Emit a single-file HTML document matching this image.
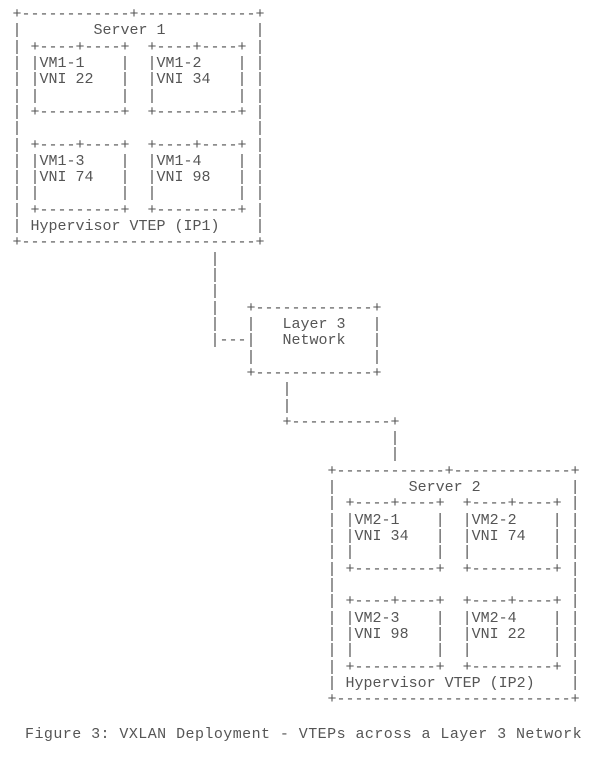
<!DOCTYPE html>
<html><head><meta charset="utf-8"><style>
html,body{margin:0;padding:0;background:#fff;}
body{width:600px;height:759px;position:relative;overflow:hidden;}
pre{position:absolute;margin:0;font-family:"Liberation Mono",monospace;font-size:15px;line-height:16.32px;color:#555;}
#d{left:12.5px;top:7px;}
#c{left:25px;top:727px;letter-spacing:0.44px;}
</style></head><body>
<pre id="d">+------------+-------------+
|        Server 1          |
| +----+----+  +----+----+ |
| |VM1-1    |  |VM1-2    | |
| |VNI 22   |  |VNI 34   | |
| |         |  |         | |
| +---------+  +---------+ |
|                          |
| +----+----+  +----+----+ |
| |VM1-3    |  |VM1-4    | |
| |VNI 74   |  |VNI 98   | |
| |         |  |         | |
| +---------+  +---------+ |
| Hypervisor VTEP (IP1)    |
+--------------------------+
                      |
                      |
                      |
                      |   +-------------+
                      |   |   Layer 3   |
                      |---|   Network   |
                          |             |
                          +-------------+
                              |
                              |
                              +-----------+
                                          |
                                          |
                                   +------------+-------------+
                                   |        Server 2          |
                                   | +----+----+  +----+----+ |
                                   | |VM2-1    |  |VM2-2    | |
                                   | |VNI 34   |  |VNI 74   | |
                                   | |         |  |         | |
                                   | +---------+  +---------+ |
                                   |                          |
                                   | +----+----+  +----+----+ |
                                   | |VM2-3    |  |VM2-4    | |
                                   | |VNI 98   |  |VNI 22   | |
                                   | |         |  |         | |
                                   | +---------+  +---------+ |
                                   | Hypervisor VTEP (IP2)    |
                                   +--------------------------+</pre>
<pre id="c">Figure 3: VXLAN Deployment - VTEPs across a Layer 3 Network</pre>
</body></html>
